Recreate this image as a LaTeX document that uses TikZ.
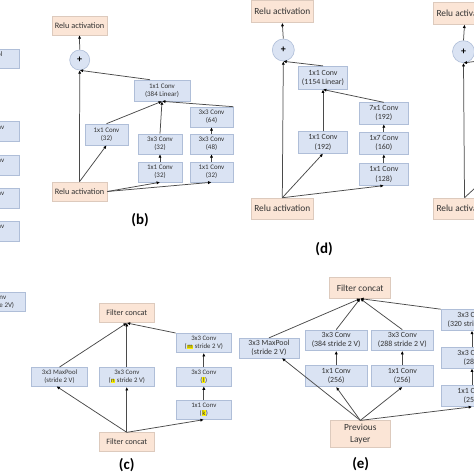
\documentclass[tikz,border=0pt]{standalone}
\usepackage{fontspec}
\setmainfont{Carlito}
\usetikzlibrary{arrows.meta}
\definecolor{convf}{HTML}{DAE3F3}
\definecolor{convd}{HTML}{AFBED8}
\definecolor{reluf}{HTML}{FBE5D6}
\definecolor{relud}{HTML}{DDCABD}
\definecolor{linec}{HTML}{4A4A4A}
\definecolor{txt}{HTML}{333333}
\definecolor{hly}{HTML}{FFF200}
\newcommand{\hlt}[1]{{\setlength{\fboxsep}{0.6pt}\colorbox{hly}{#1}}}
\begin{document}
\begin{tikzpicture}[x=1bp,y=-1bp,
 conv/.style={draw=convd, fill=convf, line width=0.6pt, align=center, inner sep=0pt, text=txt, font=\fontsize{7}{8.4}\selectfont},
 relu/.style={draw=relud, fill=reluf, line width=0.6pt, align=center, inner sep=0pt, text=txt, font=\fontsize{8.3}{10}\selectfont},
 fa/.style={font=\fontsize{6.8}{8.2}\selectfont},
 fb/.style={font=\fontsize{7.9}{9.4}\selectfont},
 fra/.style={font=\fontsize{8.2}{10}\selectfont},
 frb/.style={font=\fontsize{9.4}{11.4}\selectfont},
 sz/.style 2 args={minimum width=#1bp, minimum height=#2bp},
 plus/.style={circle, draw=convd, fill=convf, line width=0.6pt, minimum size=#1bp, inner sep=0pt, text=black, font=\bfseries\fontsize{10}{10}\selectfont},
 arr/.style={draw=linec, line width=0.75pt, -{Latex[length=3.4bp,width=3.2bp,color=black]}},
 ln/.style={draw=linec, line width=0.75pt},
 lab/.style={font=\bfseries\fontsize{15}{17}\selectfont, inner sep=0pt, text=black}
]
\useasboundingbox (0,0) rectangle (474,474);
\clip (0,0) rectangle (474,474);
\fill[white] (0,0) rectangle (474,474);

% ---------- (a) stub column at the left edge ----------
\node[conv, sz={70}{19}] (a1) at (-15.7,58.8) {3x3 MaxPool\\(stride 2V)};
\node[conv, sz={56}{20}] (a2) at (-8.7,131.7) {3x3 Conv\\(64)};
\node[conv, sz={56}{20}] (a3) at (-8.7,165) {3x3 Conv\\(64)};
\node[conv, sz={56}{20}] (a4) at (-8.7,198.3) {3x3 Conv\\(64)};
\node[conv, sz={56}{20}] (a5) at (-8.7,231) {3x3 Conv\\(64)};
\node[conv, sz={63}{19.5}] (a6) at (-6.7,302) {3x3 Conv\\(192 stride 2V)};

% ---------- (b) ----------
\node[relu, sz={55}{19}] (reluTb) at (79.5,25.5) {Relu activation};
\node[plus=20] (plusb) at (79.7,60) {+};
\node[conv, sz={56}{21}] (lin384) at (162,90.5) {1x1 Conv\\(384 Linear)};
\node[conv, sz={43}{21}] (c32a) at (106.5,134.5) {1x1 Conv\\(32)};
\node[conv, sz={44}{20}] (c32b) at (160,144) {3x3 Conv\\(32)};
\node[conv, sz={44}{20}] (c32c) at (160,172) {1x1 Conv\\(32)};
\node[conv, sz={43}{20}] (c64) at (211.5,117) {3x3 Conv\\(64)};
\node[conv, sz={43}{20}] (c48) at (211.5,144) {3x3 Conv\\(48)};
\node[conv, sz={43}{20}] (c32d) at (211.5,172) {1x1 Conv\\(32)};
\node[relu, sz={55}{19}] (reluBb) at (79.5,191.5) {Relu activation};
\node[lab] (labb) at (140,220) {(b)};

\draw[arr] (plusb.north) -- (reluTb.south);
\draw[arr] (reluBb.north) -- (plusb.south);
\draw[arr] ([xshift=-12bp]lin384.north) -- (plusb.south);
\draw[arr] (reluBb.north) -- (c32a.south);
\draw[arr] (reluBb.east) -- (c32c.south);
\draw[arr] (reluBb.east) -- (c32d.south);
\draw[arr] (c32c.north) -- (c32b.south);
\draw[arr] (c32d.north) -- (c48.south);
\draw[arr] (c48.north) -- (c64.south);
\draw[arr] (c32a.north) -- (lin384.south);
\draw[arr] (c32b.north) -- (lin384.south);
\draw[arr] (c64.north east) -- (lin384.south);

% ---------- (d) ----------
\node[relu, frb, sz={62}{22}] (reluTd) at (282.3,11.6) {Relu activation};
\node[plus=22] (plusd) at (283.3,50) {+};
\node[conv, fb, sz={49.4}{23}] (lin1154) at (323,77.7) {1x1 Conv\\(1154 Linear)};
\node[conv, fb, sz={49.4}{21.6}] (c192a) at (323,142.5) {1x1 Conv\\(192)};
\node[conv, fb, sz={49}{21.3}] (c7x1) at (383.8,113.3) {7x1 Conv\\(192)};
\node[conv, fb, sz={49}{22}] (c1x7) at (383.8,143) {1x7 Conv\\(160)};
\node[conv, fb, sz={49}{21.6}] (c128) at (383.8,174.5) {1x1 Conv\\(128)};
\node[relu, frb, sz={62}{21.3}] (reluBd) at (282.3,208.7) {Relu activation};
\node[lab] (labd) at (324,249) {(d)};

\draw[arr] (plusd.north) -- (reluTd.south);
\draw[arr] (reluBd.north) -- (plusd.south);
\draw[arr] (lin1154.north) -- (plusd.south);
\draw[arr] (reluBd.north) -- (c192a.south);
\draw[arr] (reluBd.north) -- (c128.south);
\draw[arr] (c128.north) -- (c1x7.south);
\draw[arr] (c1x7.north) -- (c7x1.south);
\draw[arr] (c192a.north) -- (lin1154.south);
\draw[arr] (c7x1.north) -- (lin1154.south);

% ---------- partial block at the right edge ----------
\node[relu, frb, sz={62}{21.6}] (reluTf) at (464.5,13.5) {Relu activation};
\node[plus=22] (plusf) at (463.5,51.7) {+};
\node[relu, frb, sz={62}{21}] (reluBf) at (464.5,208.5) {Relu activation};
\coordinate (fLin) at (500,58);
\coordinate (fBr) at (500,165);
\draw[arr] (plusf.north) -- (reluTf.south);
\draw[arr] (reluBf.north) -- (plusf.south);
\draw[arr] (fLin) -- (plusf.south);
\draw[ln] (reluBf.north) -- (fBr);

% ---------- (c) ----------
\node[relu, fra, sz={55}{19.4}] (fcTc) at (126.8,313) {Filter concat};
\node[conv, fa, sz={55.6}{18.7}] (mpc) at (59.5,376.7) {3x3 MaxPool\\(stride 2 V)};
\node[conv, fa, sz={55}{19.4}] (cn) at (126.8,377) {3x3 Conv\\(\hlt{n} stride 2 V)};
\node[conv, fa, sz={55.7}{19.4}] (cm) at (203.8,343) {3x3 Conv\\(\hlt{m} stride 2 V)};
\node[conv, fa, sz={55.7}{18.7}] (cl) at (203.8,376.7) {3x3 Conv\\(\hlt{l})};
\node[conv, fa, sz={55.7}{19.3}] (ck) at (203.8,409.7) {1x1 Conv\\(\hlt{k})};
\node[relu, fra, sz={55}{18.7}] (fcBc) at (126.8,442) {Filter concat};
\node[lab] (labc) at (126.7,465) {(c)};

\draw[arr] (fcBc.north) -- ([xshift=-3bp]mpc.south);
\draw[arr] (fcBc.north) -- (cn.south);
\draw[arr] (fcBc.north) -- (ck.south);
\draw[arr] (ck.north) -- (cl.south);
\draw[arr] (cl.north) -- (cm.south);
\draw[arr] (mpc.north) -- (fcTc.south);
\draw[arr] (cn.north) -- (fcTc.south);
\draw[arr] (cm.north west) -- (fcTc.south);

% ---------- (e) ----------
\node[relu, frb, sz={61}{21}] (fcTe) at (360.2,287.8) {Filter concat};
\node[conv, fb, sz={60}{19.7}] (mpe) at (269,348) {3x3 MaxPool\\(stride 2 V)};
\node[conv, fb, sz={62.3}{20.7}] (c384) at (336.2,340.3) {3x3 Conv\\(384 stride 2 V)};
\node[conv, fb, sz={62}{20.7}] (c288) at (402.3,340.3) {3x3 Conv\\(288 stride 2 V)};
\node[conv, fb, sz={62.3}{21}] (c256a) at (336.2,376.2) {1x1 Conv\\(256)};
\node[conv, fb, sz={62}{21}] (c256b) at (402.3,376.2) {1x1 Conv\\(256)};
\node[relu, sz={60.7}{26.6}, font=\fontsize{9.4}{11.8}\selectfont] (prev) at (360.3,434) {Previous\\Layer};
\node[conv, fb, sz={62}{21}] (c320) at (472,320) {3x3 Conv\\(320 stride 2 V)};
\node[conv, fb, sz={62}{20.7}] (c288b) at (472,357.8) {3x3 Conv\\(288)};
\node[conv, fb, sz={62}{21}] (c256c) at (472,396) {1x1 Conv\\(256)};
\node[lab] (labe) at (360.7,464) {(e)};

\draw[arr] (prev.north) -- ([xshift=13bp]mpe.south);
\draw[arr] (prev.north) -- (c256a.south);
\draw[arr] (prev.north) -- (c256b.south);
\draw[arr] (prev.north) -- (c256c.south);
\draw[arr] (c256a.north) -- (c384.south);
\draw[arr] (c256b.north) -- (c288.south);
\draw[arr] (c256c.north) -- (c288b.south);
\draw[arr] (c288b.north) -- (c320.south);
\draw[arr] (mpe.north) -- (fcTe.south);
\draw[arr] (c384.north) -- (fcTe.south);
\draw[arr] (c288.north) -- (fcTe.south);
\draw[arr] (c320.north west) -- (fcTe.south);
\end{tikzpicture}
\end{document}
